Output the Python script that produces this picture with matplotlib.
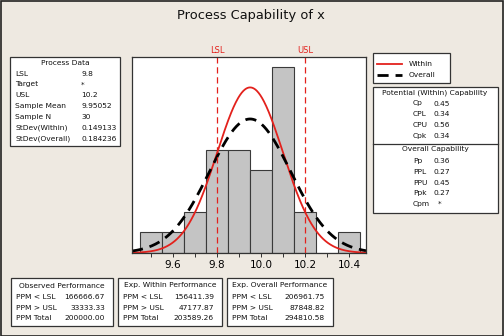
import numpy as np
import matplotlib
matplotlib.use('Agg')
import matplotlib.pyplot as plt
from matplotlib.patches import Rectangle
from matplotlib.lines import Line2D

# Histogram data (bin centres and counts)
bin_centers = [9.5, 9.6, 9.7, 9.8, 9.9, 10.0, 10.1, 10.2, 10.3, 10.4]
counts = [1, 1, 2, 5, 5, 4, 9, 2, 0, 1]
bin_width = 0.1

lsl, usl = 9.8, 10.2
mean = 9.95052
sd_within = 0.149133
sd_overall = 0.184236
n = 30

process_labels = ['LSL', 'Target', 'USL', 'Sample Mean', 'Sample N', 'StDev(Within)', 'StDev(Overall)']
process_values = ['9.8', '*', '10.2', '9.95052', '30', '0.149133', '0.184236']

within_labels = ['Cp', 'CPL', 'CPU', 'Cpk']
within_values = ['0.45', '0.34', '0.56', '0.34']
overall_labels = ['Pp', 'PPL', 'PPU', 'Ppk', 'Cpm']
overall_values = ['0.36', '0.27', '0.45', '0.27', '*']

ppm_labels = ['PPM < LSL', 'PPM > USL', 'PPM Total']
perf_titles = ['Observed Performance', 'Exp. Within Performance', 'Exp. Overall Performance']
perf_values = [['166666.67', '33333.33', '200000.00'],
               ['156411.39', '47177.87', '203589.26'],
               ['206961.75', '87848.82', '294810.58']]

W, H = 504, 336
bg = '#EEE9E1'
red = '#E3211C'
fs = 5.4

fig = plt.figure(figsize=(W / 100, H / 100), dpi=100, facecolor=bg)

def fx(px):
    return px / W

def fy(py):
    return 1 - py / H

def box(x0, y0, x1, y1):
    fig.patches.append(Rectangle((fx(x0), fy(y1)), fx(x1 - x0), (y1 - y0) / H,
                                 transform=fig.transFigure, facecolor='white',
                                 edgecolor='#333333', lw=0.9))

def txt(x, y, s, ha='left', **kw):
    fig.text(fx(x), fy(y), s, ha=ha, va='center', fontsize=fs, color='#111111', **kw)

# outer frame
fig.patches.append(Rectangle((0.001, 0.001), 0.997, 0.997, transform=fig.transFigure,
                             facecolor='none', edgecolor='#222222', lw=1.2))

fig.text(fx(251), fy(16), 'Process Capability of x', ha='center', va='center',
         fontsize=9.4, color='#111111')

# main histogram axes
ax = fig.add_axes([fx(132), fy(253), fx(366 - 132), (253 - 57) / H])
ax.bar(bin_centers, counts, width=bin_width, color='#C4C4C4', edgecolor='#3A3A3A', lw=0.8)
xs = np.linspace(9.415, 10.476, 400)
scale = n * bin_width
pdf_w = scale / (sd_within * np.sqrt(2 * np.pi)) * np.exp(-0.5 * ((xs - mean) / sd_within) ** 2)
pdf_o = scale / (sd_overall * np.sqrt(2 * np.pi)) * np.exp(-0.5 * ((xs - mean) / sd_overall) ** 2)
ax.plot(xs, pdf_w, color=red, lw=1.3)
ax.plot(xs, pdf_o, color='black', lw=2, dashes=(4, 2.5))
for v, lab in [(lsl, 'LSL'), (usl, 'USL')]:
    ax.axvline(v, color=red, lw=0.9, dashes=(5, 3))
    ax.text(v, 1.035, lab, transform=ax.get_xaxis_transform(), ha='center', va='center',
            fontsize=fs + 0.6, color=red)
ax.set_xlim(9.415, 10.476)
ax.set_ylim(0, 9.5)
ax.set_yticks([])
ax.set_xticks([9.6, 9.8, 10.0, 10.2, 10.4])
ax.set_xticklabels(['9.6', '9.8', '10.0', '10.2', '10.4'])
ax.set_xticks(np.arange(9.5, 10.45, 0.1), minor=True)
ax.tick_params(axis='x', which='both', length=3, width=0.7, labelsize=7.5, pad=2, color='#333333')
for sp in ax.spines.values():
    sp.set_color('#333333')
    sp.set_linewidth(0.9)

# Process Data box
box(10, 57, 120, 146)
txt(65, 63, 'Process Data', ha='center')
for i, (l, v) in enumerate(zip(process_labels, process_values)):
    y = 73.5 + i * 10.9
    txt(15, y, l)
    txt(81, y, v)

# legend box
box(373, 53, 450, 83)
fig.lines.append(Line2D([fx(377), fx(402)], [fy(63.5), fy(63.5)], transform=fig.transFigure,
                        color=red, lw=1.3))
fig.lines.append(Line2D([fx(377), fx(402)], [fy(75), fy(75)], transform=fig.transFigure,
                        color='black', lw=2, dashes=(4, 2.5)))
txt(409, 63.5, 'Within')
txt(409, 75, 'Overall')

# capability box
box(373, 87, 498, 213)
fig.lines.append(Line2D([fx(373), fx(498)], [fy(144), fy(144)], transform=fig.transFigure,
                        color='#333333', lw=0.9))
txt(435, 93, 'Potential (Within) Capability', ha='center')
for i, (l, v) in enumerate(zip(within_labels, within_values)):
    y = 103.5 + i * 10.8
    txt(413, y, l)
    txt(434, y, v)
txt(435, 149.5, 'Overall Capability', ha='center')
for i, (l, v) in enumerate(zip(overall_labels, overall_values)):
    y = 161 + i * 10.8
    txt(413, y, l)
    txt(438 if v == '*' else 434, y, v)

# performance boxes
lefts = [11, 118, 227]
rights = [113, 222, 333]
for k in range(3):
    box(lefts[k], 278, rights[k], 326)
    txt((lefts[k] + rights[k]) / 2, 285.5, perf_titles[k], ha='center')
    for i, l in enumerate(ppm_labels):
        y = 297 + i * 10.6
        txt(lefts[k] + 5, y, l)
        txt(rights[k] - 8, y, perf_values[k][i], ha='right')

fig.savefig('out.png', dpi=100, facecolor=bg)
